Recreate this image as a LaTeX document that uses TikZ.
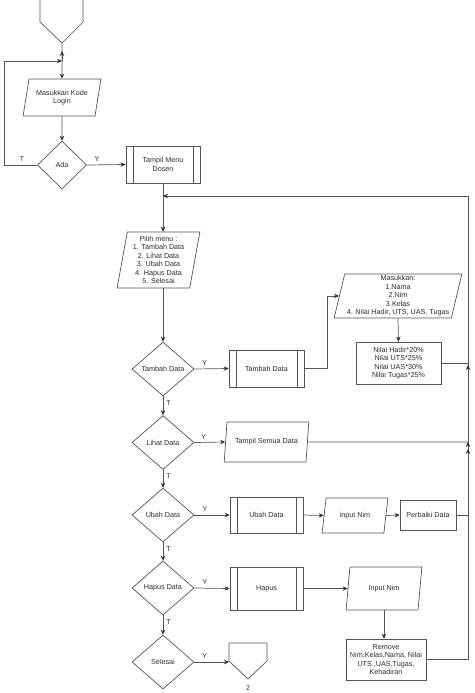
\documentclass[tikz,border=0pt]{standalone}
\usepackage{fontspec}
\setmainfont{Liberation Sans}
\usetikzlibrary{shapes.geometric,arrows.meta}
\definecolor{lc}{RGB}{85,85,85}
\definecolor{tc}{RGB}{45,45,45}
\begin{document}
\begin{tikzpicture}[x=1pt,y=-1pt,
  every node/.style={font=\fontsize{7.2}{8.5}\selectfont, text=tc, align=center, inner sep=0pt},
  ln/.style={draw=lc, line width=0.7pt},
  arr/.style={ln, -{Stealth[length=5pt,width=4.5pt,color=black!80,fill=black!80]}},
  dec/.style={diamond, draw=lc, line width=0.7pt, minimum width=62pt, minimum height=54pt},
  box/.style 2 args={rectangle, draw=lc, line width=0.7pt, minimum width=#1, minimum height=#2},
  pbox/.style 2 args={box={#1}{#2}, append after command={
      ([xshift=7.5pt]\tikzlastnode.north west) edge[ln] ([xshift=7.5pt]\tikzlastnode.south west)
      ([xshift=-7.5pt]\tikzlastnode.north east) edge[ln] ([xshift=-7.5pt]\tikzlastnode.south east)}},
  io/.style n args={4}{trapezium, draw=lc, line width=0.7pt, trapezium stretches=true,
      trapezium left angle=#3, trapezium right angle=#4, minimum width=#1, minimum height=#2},
  lbl/.style={font=\fontsize{7}{8}\selectfont}
]
\useasboundingbox (0,0) rectangle (474,693);

% off-page connector top
\draw[ln] (40,-3) -- (40,22) -- (62,43) coordinate (c1) -- (83,22) -- (83,-3);
% off-page connector bottom
\draw[ln] (229,643) -- (267,643) -- (267,661) -- (248,679) -- (229,661) -- cycle;
\coordinate (c2) at (229,662);
\node[lbl] (n2) at (248,688) {2};

% nodes
\node[io={78pt}{37pt}{73}{107}] (login) at (62,97.5) {Masukkan Kode\\Login};
\node[dec, minimum width=49pt, minimum height=48pt] (ada) at (62,165) {Ada};
\node[pbox={74pt}{37pt}] (menu) at (163,164.5) {Tampil Menu\\Dosen};
\node[io={83pt}{56pt}{80}{100}] (pilih) at (158.5,260) {Pilih menu :\\1. Tambah Data\\2. Lihat Data\\3. Ubah Data\\4. Hapus Data\\5. Selesai};
\node[dec] (d1) at (163,369) {Tambah Data};
\node[dec] (d2) at (163,442.5) {Lihat Data};
\node[dec] (d3) at (163,515) {Ubah Data};
\node[dec] (d4) at (163,588) {Hapus Data};
\node[dec] (d5) at (163,662) {Selesai};
\node[pbox={75pt}{37pt}] (tbox) at (266.5,368.5) {Tambah Data};
\node[io={128pt}{44pt}{76}{104}] (mas) at (398,296) {Masukkan:\\1.Nama\\2.Nim\\3.Kelas\\4. Nilai Hadir, UTS, UAS, Tugas};
\node[box={85pt}{42pt}] (nilai) at (398.5,363) {Nilai Hadir*20\%\\Nilai UTS*25\%\\Nilai UAS*30\%\\Nilai Tugas*25\%};
\node[io={85pt}{40pt}{72}{108}] (semua) at (266.5,442) {Tampil Semua Data};
\node[pbox={73pt}{36pt}] (ubox) at (266.5,515) {Ubah Data};
\node[io={66pt}{35pt}{72.5}{107.5}] (inim) at (355,515.5) {input Nim};
\node[box={56pt}{30pt}] (perb) at (428,515) {Perbaiki Data};
\node[pbox={73pt}{43pt}] (hbox) at (266.5,588.5) {Hapus};
\node[io={76pt}{43pt}{75.6}{104.4}] (inim2) at (384,588.5) {Input Nim};
\node[box={80pt}{41pt}] (rem) at (386,659.5) {Remove\\Nim,Kelas,Nama, Nilai\\UTS ,UAS,Tugas,\\Kehadiran};

% coordinates
\coordinate (j0) at (62,51);
\coordinate (j1) at (62,61);
\coordinate (j2) at (163,196);
\coordinate (rtop) at (468,196);
\coordinate (rnil) at (468,363);
\coordinate (rlih) at (468,442);
\coordinate (rper) at (468,515);
\coordinate (a1s) at (468,371);
\coordinate (a1e) at (468,365);
\coordinate (a2s) at (468,448);
\coordinate (a2e) at (468,442);
\coordinate (a3s) at (468,455);
\coordinate (a3e) at (468,449);

% connectors
\draw[arr] (c1) -- (login.north);
\draw[arr] (j1) -- (j0);
\draw[arr] (ada.west) -- ++(-33,0) |- (j1);
\node[lbl] (tA) at (22,159) {T};
\draw[arr] (login.south) -- (ada.north);
\draw[arr] (ada.east) -- (menu.west);
\node[lbl] (yA) at (97,159) {Y};
\draw[arr] (menu.south) -- (menu.south |- pilih.north);
\draw[arr] (menu.south |- pilih.south) -- (d1.north);

\draw[arr] (d1.south) -- (d2.north) node[lbl, pos=0.35, right=3pt] {T};
\draw[arr] (d2.south) -- (d3.north) node[lbl, pos=0.35, right=3pt] {T};
\draw[arr] (d3.south) -- (d4.north) node[lbl, pos=0.35, right=3pt] {T};
\draw[arr] (d4.south) -- (d5.north) node[lbl, pos=0.35, right=3pt] {T};

\draw[arr] (d1.east) -- (tbox.west) node[lbl, pos=0.3, above=3pt] {Y};
\draw[arr] (tbox.east) -- ++(23,0) |- (mas.west);
\draw[arr] (mas.south) -- (nilai.north);
\draw[ln] (nilai.east) -- (rnil);

\draw[arr] (d2.east) -- (semua.west) node[lbl, pos=0.3, above=3pt] {Y};
\draw[ln] (semua.east) -- (rlih);

\draw[arr] (d3.east) -- (ubox.west) node[lbl, pos=0.3, above=3pt] {Y};
\draw[arr] (ubox.east) -- (inim.west);
\draw[arr] (inim.east) -- (perb.west);
\draw[ln] (perb.east) -- (rper);

\draw[arr] (d4.east) -- (hbox.west) node[lbl, pos=0.3, above=3pt] {Y};
\draw[arr] (hbox.east) -- (inim2.west);
\draw[arr] (inim2.south) -- (inim2.south |- rem.north);

\draw[arr] (d5.east) -- (c2) node[lbl, pos=0.3, above=3pt] {Y};

\draw[arr] (rem.east) -| (rtop) -- (j2);
\draw[arr] (a1s) -- (a1e);
\draw[arr] (a2s) -- (a2e);
\draw[arr] (a3s) -- (a3e);
\end{tikzpicture}
\end{document}
